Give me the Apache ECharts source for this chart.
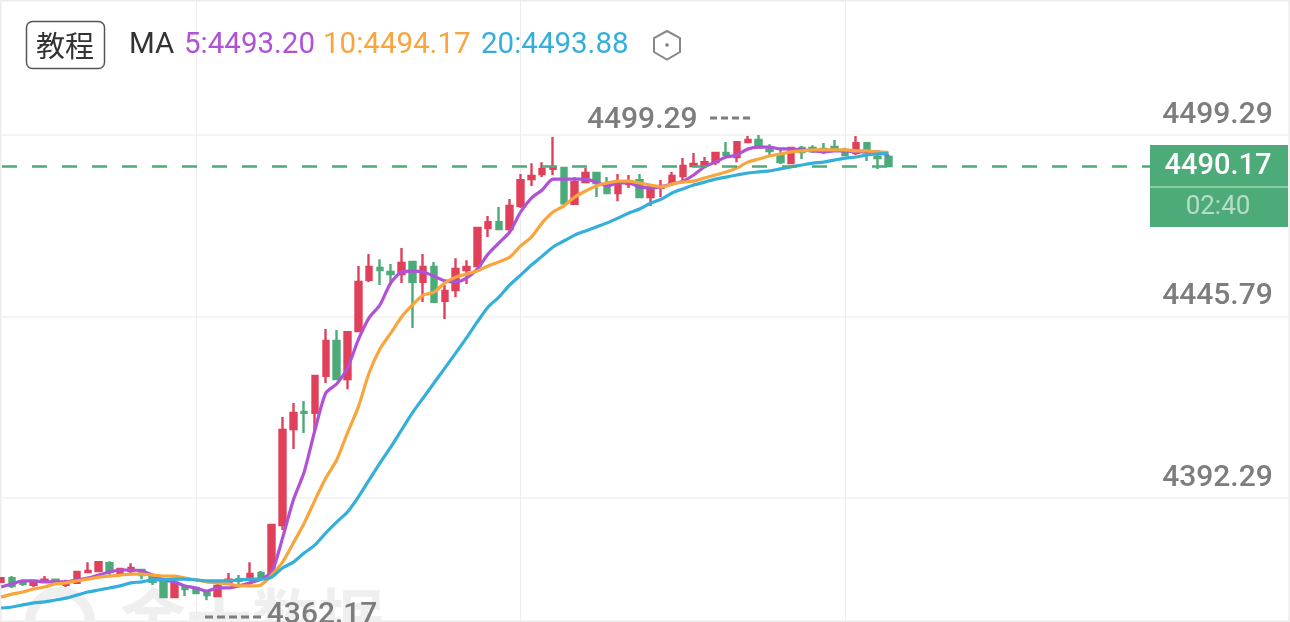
<!DOCTYPE html>
<html><head><meta charset="utf-8">
<style>html,body{margin:0;padding:0;background:#fff}#c{width:1290px;height:622px}</style>
<script src="https://cdn.jsdelivr.net/npm/echarts@6/dist/echarts.min.js"></script></head>
<body><div id="c"></div>
<script>
const opens=[4367.6,4368.7,4367.6,4366.7,4367.6,4368.2,4366.7,4367.3,4370.5,4370.8,4373.1,4370.2,4370.8,4371.1,4369.0,4368.2,4363.1,4366.1,4365.8,4364.6,4363.4,4367.3,4368.4,4368.2,4370.2,4369.6,4384.35,4412.6,4417.7,4417.4,4428.3,4438.6,4427.4,4441.5,4456.6,4460.1,4458.9,4458.3,4461.9,4456.0,4460.4,4450.4,4453.6,4459.5,4460.7,4471.9,4473.6,4471.6,4478.4,4486.3,4487.8,4489.3,4489.6,4479.0,4485.4,4488.1,4484.0,4482.2,4484.85,4486.0,4481.0,4483.7,4485.15,4487.2,4490.17,4490.45,4491.3,4494.0,4492.8,4497.2,4497.8,4494.9,4493.4,4491.0,4495.5,4495.5,4495.2,4495.75,4494.9,4494.0,4496.9,4492.8,4492.8];
const closes=[4368.7,4366.4,4367.0,4367.9,4368.2,4367.3,4367.3,4370.5,4370.8,4373.4,4370.5,4371.4,4371.7,4369.6,4367.6,4363.1,4367.3,4365.5,4364.3,4363.7,4366.4,4368.2,4367.9,4369.9,4368.7,4384.35,4412.35,4417.4,4417.4,4428.3,4438.6,4427.4,4441.2,4456.0,4460.4,4459.5,4458.3,4461.6,4456.0,4460.4,4450.1,4453.3,4459.8,4460.4,4471.9,4473.6,4471.6,4478.4,4486.0,4487.2,4489.3,4489.6,4479.2,4485.4,4488.1,4485.15,4482.2,4485.15,4485.4,4481.0,4483.7,4484.3,4487.2,4490.17,4490.75,4491.3,4494.0,4493.4,4497.2,4497.8,4495.75,4494.6,4491.3,4495.5,4494.3,4494.6,4494.6,4495.2,4493.4,4496.9,4494.3,4492.5,4490.17];
const highs=[4368.9,4369.3,4368.2,4368.2,4369.3,4368.4,4368.2,4370.6,4373.4,4373.7,4373.7,4371.7,4373.1,4371.4,4369.6,4368.4,4368.2,4366.7,4366.1,4365.2,4367.0,4370.2,4369.6,4373.4,4370.8,4384.6,4416.2,4420.3,4420.9,4428.4,4442.1,4441.8,4441.3,4460.7,4464.2,4462.7,4461.3,4466.0,4462.0,4464.2,4461.9,4455.1,4463.0,4462.4,4472.0,4475.4,4478.1,4480.4,4487.8,4491.0,4491.3,4498.7,4489.7,4486.9,4489.6,4488.2,4486.9,4487.8,4487.5,4487.8,4483.8,4486.0,4488.4,4492.5,4494.0,4492.8,4494.1,4497.2,4497.5,4499.0,4499.29,4496.6,4494.9,4495.75,4496.05,4496.3,4496.9,4497.8,4495.5,4499.0,4497.2,4493.4,4493.4];
const lows=[4367.4,4365.8,4366.4,4366.1,4367.3,4366.7,4366.1,4367.0,4370.2,4370.5,4369.3,4369.6,4370.2,4368.4,4366.7,4363.0,4363.0,4363.4,4364.0,4362.17,4363.1,4367.2,4367.0,4367.9,4368.2,4368.7,4382.9,4406.75,4411.5,4411.5,4426.2,4427.3,4424.4,4441.2,4456.0,4455.1,4455.1,4455.7,4442.4,4450.1,4449.8,4445.1,4451.5,4455.4,4460.4,4469.2,4471.5,4470.4,4477.8,4484.3,4486.9,4487.5,4479.1,4478.7,4485.15,4481.0,4482.1,4479.8,4483.7,4480.9,4478.4,4481.0,4484.3,4486.0,4490.1,4489.6,4490.45,4493.1,4491.3,4496.9,4495.5,4493.4,4490.75,4490.75,4492.2,4494.0,4493.7,4494.3,4493.3,4493.4,4491.6,4489.3,4490.1];
const ma5=[4366.1,4367.0,4367.9,4367.9,4367.6,4367.6,4367.6,4368.2,4368.7,4369.6,4370.5,4371.1,4371.1,4370.8,4369.6,4368.2,4367.6,4366.4,4365.8,4364.9,4365.8,4365.8,4366.4,4367.3,4368.4,4370.5,4380.5,4391.7,4400.0,4412.35,4423.25,4425.9,4430.6,4438.9,4445.4,4449.2,4455.7,4458.9,4459.2,4458.9,4457.7,4456.3,4456.0,4457.1,4459.8,4464.2,4467.5,4470.7,4476.6,4480.7,4483.1,4486.3,4486.3,4486.3,4486.3,4485.4,4484.3,4485.15,4485.15,4484.0,4483.7,4484.0,4484.85,4485.7,4487.5,4489.9,4491.3,4492.8,4493.4,4495.2,4495.75,4495.75,4495.2,4495.2,4494.9,4494.6,4494.3,4494.6,4494.6,4494.3,4494.3,4494.3,4493.2];
const ma10=[4363.1,4364.0,4364.6,4365.5,4366.1,4367.0,4367.3,4367.9,4368.4,4369.0,4369.3,4369.6,4369.9,4369.9,4369.6,4369.3,4369.3,4368.7,4368.2,4367.6,4367.3,4367.0,4366.4,4366.4,4366.7,4369.6,4373.4,4379.05,4384.9,4391.7,4398.2,4403.5,4411.5,4419.1,4429.15,4436.2,4440.9,4445.65,4449.2,4452.1,4453.0,4455.7,4457.4,4458.3,4459.2,4460.7,4461.9,4463.3,4466.6,4469.2,4473.4,4476.6,4478.4,4481.0,4482.8,4484.3,4485.15,4485.7,4485.7,4485.15,4484.55,4484.0,4484.85,4485.4,4485.7,4486.6,4487.5,4488.4,4489.6,4491.3,4492.2,4493.1,4493.7,4494.3,4494.6,4494.9,4494.9,4494.9,4494.9,4494.6,4494.6,4494.3,4494.17];
const ma20=[4359.9,4360.2,4360.8,4361.4,4361.7,4362.25,4362.8,4363.7,4364.6,4365.2,4365.8,4366.4,4367.3,4367.6,4368.2,4368.2,4368.4,4368.4,4368.2,4367.9,4367.9,4367.9,4368.2,4368.4,4368.4,4369.0,4371.7,4373.4,4376.1,4378.5,4382.0,4385.2,4388.2,4392.6,4397.6,4402.6,4407.3,4412.35,4417.4,4421.8,4426.2,4430.6,4435.0,4439.5,4444.2,4448.6,4451.5,4455.1,4458.0,4461.0,4463.6,4466.3,4468.05,4469.8,4471.0,4472.2,4473.4,4474.8,4476.3,4477.5,4479.2,4480.4,4482.2,4483.4,4484.55,4485.4,4486.3,4486.9,4487.5,4488.1,4488.4,4488.7,4489.3,4489.9,4490.45,4491.0,4491.3,4491.9,4492.5,4492.8,4493.4,4493.7,4493.88];
const priceTicks=[4392.29,4445.79,4499.29];
const lastPrice=4490.17, countdown='02:40', maxPrice=4499.29, minPrice=4362.17;
const maLabels=['5:4493.20','10:4494.17','20:4493.88'];
const RED='#e0405a',GREEN='#4cab78',PURPLE='#af52d5',ORANGE='#f7a53c',BLUE='#34afdc',GREY='#7d7d7d';
const FONT='Roboto';
const cats=[];for(let i=0;i<120;i++)cats.push(String(i));
const ohlc=opens.map((o,i)=>[o,closes[i],lows[i],highs[i]]);
const chart=echarts.init(document.getElementById('c'),null,{renderer:'canvas'});
const maLine=(name,d,c)=>({name,type:'line',data:d,symbol:'none',smooth:0.25,z:3,lineStyle:{color:c,width:3.2},animation:false});
const txt=(x,y,t,fill,size,align,extra)=>({type:'text',x,y,silent:true,style:Object.assign({text:t,fill,font:`${size}px ${FONT}`,textAlign:align||'left',textVerticalAlign:'middle'},extra||{})});
chart.setOption({
 animation:false,
 grid:{left:1.2,right:1.2,top:0,bottom:0},
 xAxis:{type:'category',data:cats,boundaryGap:false,axisLine:{show:false},axisTick:{show:false},axisLabel:{show:false},
  splitLine:{show:true,interval:(i)=>i===18||i===48||i===78,lineStyle:{color:'#ececec',width:1}}},
 yAxis:{type:'value',position:'right',min:4355.77,max:4539.08,
  axisLine:{show:false},axisTick:{show:false,customValues:priceTicks},
  axisLabel:{show:true,inside:true,customValues:priceTicks,formatter:v=>v.toFixed(2),color:GREY,fontFamily:FONT,fontWeight:500,fontSize:30,margin:16,verticalAlign:'bottom',padding:[0,0,5,0]},
  splitLine:{show:true,lineStyle:{color:'#f0f0f0',width:1.5}}},
 series:[
  {type:'candlestick',data:ohlc,barWidth:6,clip:false,z:2,
   itemStyle:{color:RED,color0:GREEN,borderColor:RED,borderColor0:GREEN,borderWidth:2.4},
   markPoint:{symbol:'circle',symbolSize:0,silent:true,animation:false,
    data:[
     {coord:['70',maxPrice],value:maxPrice,label:{show:true,position:'left',distance:0,offset:[-61,-15],formatter:maxPrice.toFixed(2),color:GREY,fontFamily:FONT,fontWeight:500,fontSize:30}},
     {coord:['19',minPrice],value:minPrice,label:{show:true,position:'right',distance:0,offset:[60,15],formatter:minPrice.toFixed(2),color:GREY,fontFamily:FONT,fontWeight:500,fontSize:30}}
    ]},
   markLine:{symbol:'none',silent:true,animation:false,label:{show:false},
    lineStyle:{color:GREEN,type:[15,15],width:2.5},
    data:[[{coord:['0',lastPrice],x:2},{coord:['0',lastPrice],x:1150}]]}
  },
  maLine('MA5',ma5,PURPLE),maLine('MA10',ma10,ORANGE),maLine('MA20',ma20,BLUE)
 ],
 graphic:[
  {type:'rect',z:-10,silent:true,shape:{x:0,y:0,width:1290,height:622},style:{fill:'none',stroke:'#ececec',lineWidth:3}},
  {type:'circle',z:-10,silent:true,shape:{cx:60,cy:622,r:30},style:{fill:'none',stroke:'#efefef',lineWidth:10}},
  {type:'text',z:-10,x:120,y:586,silent:true,style:{text:'金十数据',fill:'#efefef',font:'bold 66px "Noto Sans CJK SC"',textAlign:'left',textVerticalAlign:'top'}},
  {type:'rect',z:10,silent:true,shape:{x:26.5,y:21.5,width:78,height:47,r:6},style:{fill:'#fff',stroke:'#555',lineWidth:1.5}},
  {type:'text',z:11,x:65,y:46,silent:true,style:{text:'教程',fill:'#333',font:'29px "Noto Sans CJK SC"',textAlign:'center',textVerticalAlign:'middle'}},
  Object.assign(txt(129,46,'MA','#333',29.5),{z:11}),
  Object.assign(txt(184,46,maLabels[0],PURPLE,29.5),{z:11}),
  Object.assign(txt(323,46,maLabels[1],ORANGE,29.5),{z:11}),
  Object.assign(txt(481,46,maLabels[2],BLUE,29.5),{z:11}),
  {type:'polygon',z:11,silent:true,shape:{points:[[667,31],[680,38],[680,52],[667,59.5],[654,52],[654,38]]},style:{fill:'#fff',stroke:'#888',lineWidth:2}},
  {type:'rect',z:12,silent:true,shape:{x:665.5,y:43.5,width:3,height:3},style:{fill:'#777'}},
  {type:'line',z:11,silent:true,shape:{x1:710,y1:118,x2:752,y2:118},style:{stroke:GREY,lineWidth:3,lineDash:[7,4]}},
  {type:'line',z:11,silent:true,shape:{x1:205,y1:617,x2:262,y2:617},style:{stroke:GREY,lineWidth:3,lineDash:[8,4]}},
  {type:'rect',z:20,silent:true,shape:{x:1150,y:145,width:138,height:82},style:{fill:GREEN}},
  {type:'line',z:21,silent:true,shape:{x1:1150,y1:187,x2:1288,y2:187},style:{stroke:'rgba(255,255,255,0.7)',lineWidth:1}},
  Object.assign(txt(1218,167,lastPrice.toFixed(2),'#fff',29,'center',{font:`500 29px ${FONT}`}),{z:21}),
  Object.assign(txt(1218,207,countdown,'rgba(255,255,255,0.6)',26,'center'),{z:21})
 ]
});
</script></body></html>
